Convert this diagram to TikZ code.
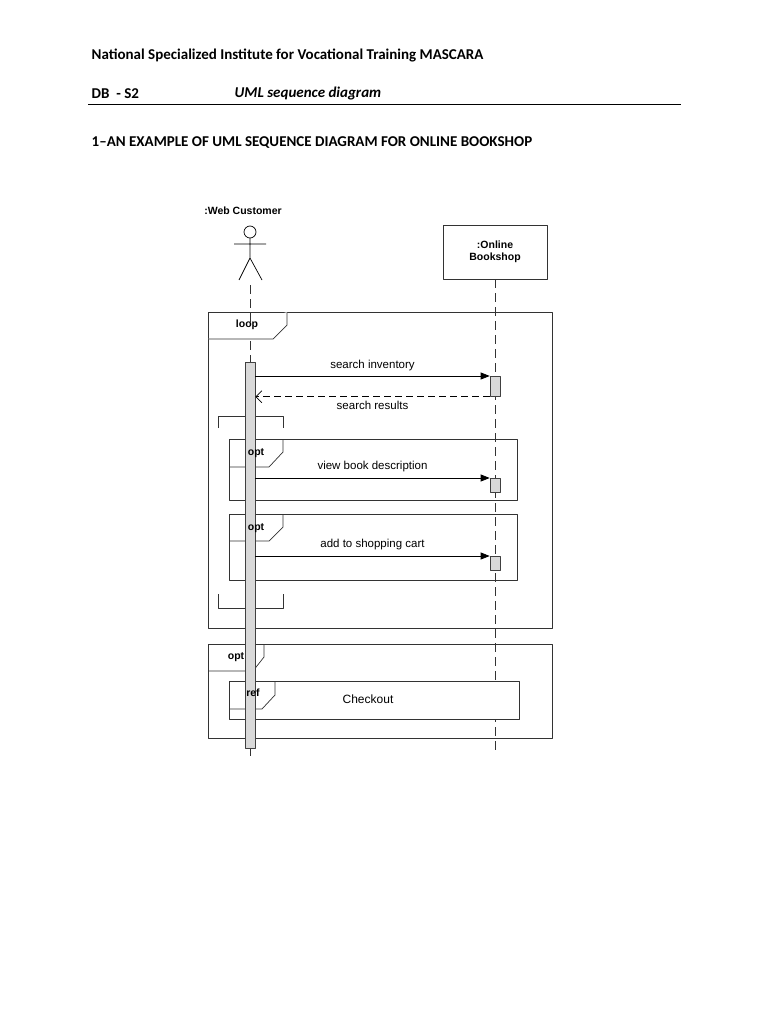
\documentclass[tikz,border=0pt]{standalone}
\usepackage{fontspec}
\setmainfont{Carlito}
\newfontfamily\diagfont{Liberation Sans}
\usetikzlibrary{arrows.meta,positioning}
\begin{document}
\begin{tikzpicture}[x=1pt,y=-1pt,line join=round,line width=0.7pt,>={Triangle[length=9pt,width=7pt]},
  lbl/.style={font=\diagfont\fontsize{11.5}{13}\selectfont},
  tag/.style={font=\diagfont\bfseries\fontsize{10.5}{12.5}\selectfont},
  frame/.style={draw=black!80},
  act/.style={draw=black!75,fill=black!15},
  life/.style={draw=black!80,dash pattern=on 9pt off 5pt}]
\useasboundingbox (0,0) rectangle (768,1024);
% page header
\node[anchor=west,font=\bfseries\fontsize{15}{17}\selectfont] (inst) at (88,56) {National Specialized Institute for Vocational Training MASCARA};
\node[anchor=west,font=\bfseries\fontsize{15}{17}\selectfont] (db) at (88,94) {DB\ \ - S2};
\node[anchor=west,font=\bfseries\itshape\fontsize{15}{17}\selectfont] (topic) at (231,94) {UML sequence diagram};
\draw[line width=0.6pt] (88,104) -- (681,104);
\node[anchor=west,font=\bfseries\fontsize{15}{17}\selectfont] (title) at (88,143) {1–AN EXAMPLE OF UML SEQUENCE DIAGRAM FOR ONLINE BOOKSHOP};
% participants
\node[tag,anchor=west,inner sep=0pt] (cust) at (204,211) {:Web Customer};
\draw (250,232) circle (6);
\draw (250,238) -- (250,258) (234,244) -- (266,244) (239,280) -- (250,258) -- (262,280);
\node[frame,draw,minimum width=104pt,minimum height=54pt,tag,align=center] (shop) at (495,252) {:Online\\Bookshop};
\coordinate (cTop) at (250,285);
\coordinate (cEnd) at (250,760);
\coordinate (sEnd) at (495,752);
\draw[life] (cTop) -- (cEnd);
\draw[life] (shop.south) -- (sEnd);
% loop frame
\draw[frame] (208,312) rectangle (552,628);
\draw[frame,fill=white] (208,339) -- (273,339) -- (287,325) -- (287,312);
\draw[frame] (218,428) -- (218,416) -- (283,416) -- (283,428);
\draw[frame] (218,594) -- (218,608) -- (283,608) -- (283,594);
% opt frames
\draw[frame] (229,439) rectangle (517,500);
\draw[frame] (229,467) -- (269,467) -- (283,452) -- (283,439);
\draw[frame] (229,514) rectangle (517,580);
\draw[frame] (229,541) -- (269,541) -- (283,527) -- (283,514);
\draw[frame] (208,644) rectangle (552,738);
\draw[frame] (208,671) -- (253,671) -- (264,657) -- (264,644);
\draw[frame,fill=white] (229,681) rectangle (519,719);
\draw[frame] (229,709) -- (262,709) -- (275,695) -- (275,681);
\node[font=\diagfont\fontsize{12}{13}\selectfont] (checkout) at (368,699) {Checkout};
% activations
\node[act,draw,minimum width=10pt,minimum height=386pt,inner sep=0pt] (cAct) at (250,555) {};
\node[act,draw,minimum width=10pt,minimum height=20pt,inner sep=0pt,anchor=north] (sAct1) at (495,376) {};
\node[act,draw,minimum width=10pt,minimum height=14pt,inner sep=0pt,anchor=north] (sAct2) at (495,478) {};
\node[act,draw,minimum width=10pt,minimum height=14pt,inner sep=0pt,anchor=north] (sAct3) at (495,556) {};
% frame tags
\node[tag] (loop) at (247,325) {loop};
\node[tag] (opt1) at (256,453) {opt};
\node[tag] (opt2) at (256,528) {opt};
\node[tag] (opt3) at (236,657) {opt};
\node[tag] (ref) at (253,693) {ref};
% messages
\draw[->] (cAct.east |- sAct1.north west) -- node[lbl,above=1pt] {search inventory} (sAct1.north west);
\draw[->,>={Straight Barb[length=6pt,width=12pt]},dash pattern=on 7pt off 4pt] (sAct1.south west) -- node[lbl,below=1pt] {search results} (cAct.east |- sAct1.south west);
\draw[->] (cAct.east |- sAct2.north west) -- node[lbl,above=2pt] {view book description} (sAct2.north west);
\draw[->] (cAct.east |- sAct3.north west) -- node[lbl,above=2pt] {add to shopping cart} (sAct3.north west);
\end{tikzpicture}
\end{document}
